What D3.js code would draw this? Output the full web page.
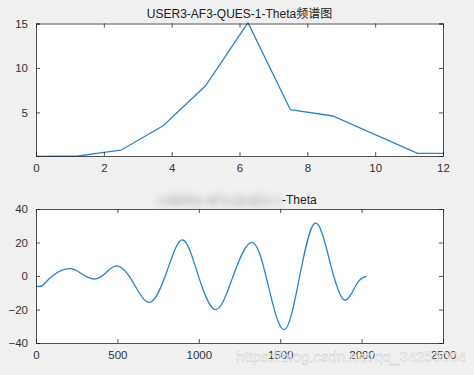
<!DOCTYPE html>
<html>
<head>
<meta charset="utf-8">
<script src="https://cdn.jsdelivr.net/npm/d3@7"></script>
<style>
  html, body { margin: 0; padding: 0; background: #f0f0f0; }
  svg { display: block; font-family: Arial, "Liberation Sans", "Noto Sans CJK SC", sans-serif; }
</style>
</head>
<body>
<div id="chart"></div>
<script>
// spectrum (top panel)
const freqX = [0, 1.25, 2, 2.5, 3.75, 5, 6.25, 7.5, 8.75, 11.25, 12.5];
const freqY = [0.05, 0.1, 0.5, 0.75, 3.5, 8, 15.1, 5.3, 4.6, 0.4, 0.4];
const topXTicks = [0, 2, 4, 6, 8, 10, 12];
const topYTicks = [5, 10, 15];

// filtered signal (bottom panel) at peaks, troughs and crossings
const sigX = [0, 41, 102, 205, 280, 358, 430, 502, 594, 700, 805, 901, 997, 1104,
  1212, 1325, 1420, 1523, 1620, 1714, 1806, 1892, 1970, 2031];
const sigY = [-6, -5.6, 0.2, 4.4, 1.3, -1.8, 2, 6, -3.4, -15.7, 3, 21.5, 0.2, -20.1,
  0.2, 20.1, -3, -32, 0, 31.6, 8.2, -14.3, -4.8, -0.2];
const botXTicks = [0, 500, 1000, 1500, 2000, 2500];
const botYTicks = [-40, -20, 0, 20, 40];

const width = 474, height = 375;
const lineColor = "#2c84c4";
const axisColor = "#262626";

const svg = d3.select("#chart").append("svg")
  .attr("width", width).attr("height", height);

svg.append("rect").attr("width", width).attr("height", height).attr("fill", "#f0f0f0");

// blur used for the masked part of the second title
svg.append("defs").append("filter").attr("id", "blur")
  .attr("x", "-10%").attr("y", "-60%").attr("width", "120%").attr("height", "220%")
  .append("feGaussianBlur").attr("stdDeviation", 3.5);

function panel(opt) {
  const g = svg.append("g");
  const x = d3.scaleLinear().domain(opt.xDomain).range([opt.left, opt.right]);
  const y = d3.scaleLinear().domain(opt.yDomain).range([opt.bottom, opt.top]);

  g.append("rect")
    .attr("x", opt.left).attr("y", opt.top)
    .attr("width", opt.right - opt.left).attr("height", opt.bottom - opt.top)
    .attr("fill", "#fff");

  const clipId = "clip" + opt.id;
  svg.select("defs").append("clipPath").attr("id", clipId)
    .append("rect")
    .attr("x", opt.left).attr("y", opt.top - 1)
    .attr("width", opt.right - opt.left).attr("height", opt.bottom - opt.top + 2);

  const line = d3.line()
    .x((d, i) => x(opt.xs[i]))
    .y(d => y(d))
    .curve(opt.curve);

  g.append("path")
    .datum(opt.ys)
    .attr("clip-path", `url(#${clipId})`)
    .attr("fill", "none")
    .attr("stroke", lineColor)
    .attr("stroke-width", 1.3)
    .attr("d", line);

  // MATLAB-style box: ticks inward on all four sides
  const tl = 4;
  const xb = d3.axisBottom(x).tickValues(opt.xTicks).tickSize(-tl).tickPadding(8).tickFormat(d3.format("d"));
  const xt = d3.axisTop(x).tickValues(opt.xTicks).tickSize(-tl).tickFormat("");
  const yl = d3.axisLeft(y).tickValues(opt.yTicks).tickSize(-tl).tickPadding(8).tickFormat(d3.format("d"));
  const yr = d3.axisRight(y).tickValues(opt.yTicks).tickSize(-tl).tickFormat("");

  const ax = [
    g.append("g").attr("transform", `translate(0,${opt.bottom})`).call(xb),
    g.append("g").attr("transform", `translate(0,${opt.top})`).call(xt),
    g.append("g").attr("transform", `translate(${opt.left},0)`).call(yl),
    g.append("g").attr("transform", `translate(${opt.right},0)`).call(yr)
  ];
  ax.forEach(a => {
    a.select(".domain").attr("stroke", axisColor).attr("stroke-width", 0.8);
    a.selectAll(".tick line").attr("stroke", axisColor).attr("stroke-width", 0.8);
    a.selectAll(".tick text").attr("fill", "#333").attr("font-size", 11.5)
      .attr("font-family", "Arial, 'Liberation Sans', sans-serif");
  });
  return { x, y, g };
}

const topPanel = panel({
  id: 1, left: 36, right: 443, top: 23.5, bottom: 156,
  xDomain: [0, 12], yDomain: [0.1, 15],
  xs: freqX, ys: freqY, xTicks: topXTicks, yTicks: topYTicks,
  curve: d3.curveLinear
});

const botPanel = panel({
  id: 2, left: 36, right: 443, top: 209, bottom: 343,
  xDomain: [0, 2500], yDomain: [-40, 40],
  xs: sigX, ys: sigY, xTicks: botXTicks, yTicks: botYTicks,
  curve: d3.curveNatural
});

// titles
svg.append("text")
  .attr("x", 239.5).attr("y", 18)
  .attr("text-anchor", "middle")
  .attr("font-size", 12)
  .attr("fill", "#222")
  .text("USER3-AF3-QUES-1-Theta频谱图");

const t2 = svg.append("g");
t2.append("text")
  .attr("x", 282).attr("y", 205)
  .attr("text-anchor", "end")
  .attr("font-size", 13)
  .attr("fill", "#999")
  .attr("filter", "url(#blur)")
  .text("USER3-AF3-QUES-1");
t2.append("text")
  .attr("x", 282).attr("y", 204)
  .attr("font-size", 12)
  .attr("fill", "#222")
  .text("-Theta");

// watermark
svg.append("text")
  .attr("x", 236).attr("y", 362)
  .attr("font-size", 15)
  .attr("fill", "#ffffff")
  .attr("fill-opacity", 0.75)
  .attr("stroke", "#c8c8c8")
  .attr("stroke-width", 0.4)
  .text("https://blog.csdn.net/qq_34253004");
</script>
</body>
</html>
